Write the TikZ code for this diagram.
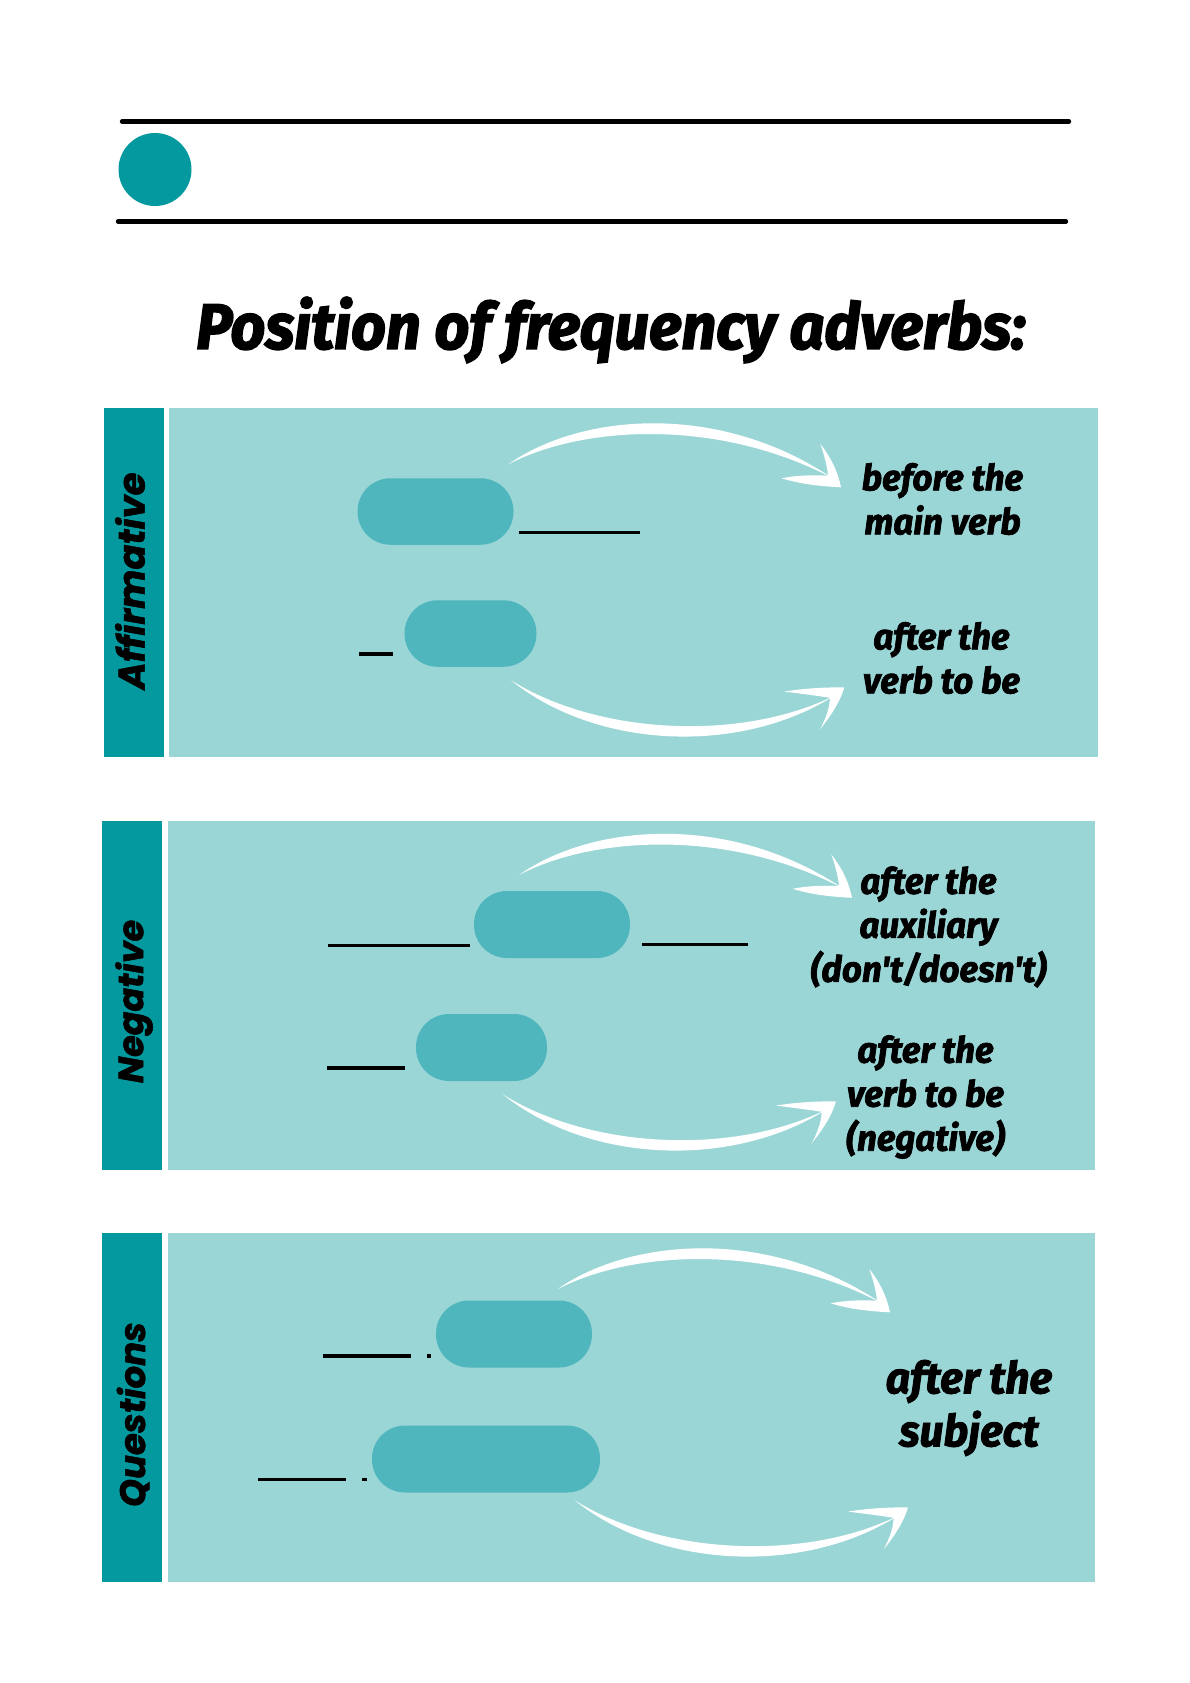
\documentclass[tikz,border=0pt]{standalone}
\usepackage{fontspec}
\setmainfont{Fira Sans}
\newfontfamily\handfont[BoldItalicFeatures={FakeBold=2,FakeStretch=0.97}]{Fira Sans}
\newfontfamily\titlefont[BoldItalicFeatures={FakeBold=2.5,FakeStretch=0.953}]{Fira Sans}
\newfontfamily\sidefont[BoldItalicFeatures={FakeBold=1.5}]{Poppins}
\definecolor{tealbar}{RGB}{4,153,158}
\definecolor{lightpanel}{RGB}{155,214,215}
\definecolor{pillcol}{RGB}{78,182,188}
\tikzset{
  barfill/.style={fill=tealbar,draw=none},
  panelfill/.style={fill=lightpanel,draw=none},
  pill/.style={fill=pillcol,draw=none,rectangle,rounded corners=33pt,inner sep=0pt},
  blank/.style={draw=black,line width=3.1pt},
  rule/.style={draw=black,line width=4.4pt,line cap=round},
  sidelabel/.style={rotate=90,anchor=center,inner sep=0pt,font=\sidefont\bfseries\itshape\fontsize{37}{40}\selectfont},
  hand/.style={align=center,anchor=center,inner sep=0pt,font=\handfont\bfseries\itshape\fontsize{36}{44}\selectfont},
  handbig/.style={align=center,anchor=center,inner sep=0pt,font=\handfont\bfseries\itshape\fontsize{44}{53}\selectfont},
  swooshup/.pic={
    \fill[white] (-332.7,-23) .. controls (-260,-74) and (-125,-85) .. (-13,-12)
      .. controls (-14,-22) and (-17,-33) .. (-20.7,-43.3)
      .. controls (-10,-30) and (-3,-15) .. (0,0)
      .. controls (-20,-1) and (-40,-3) .. (-59.3,-9)
      .. controls (-45,-12) and (-28,-12.5) .. (-13,-11.5)
      .. controls (-125,-68.5) and (-258,-62) .. cycle;
  },
  swooshdown/.pic={
    \fill[white] (-333.3,-7) .. controls (-247,62) and (-107,67) .. (-14.3,11)
      .. controls (-15,22) and (-19,32) .. (-24.3,42)
      .. controls (-13,28) and (-4,14) .. (0,0)
      .. controls (-20,0) and (-40,1) .. (-60,4.3)
      .. controls (-46,6) and (-30,8) .. (-14.3,10.5)
      .. controls (-107,54) and (-247,47) .. cycle;
  }
}
\begin{document}
\begin{tikzpicture}[x=1pt,y=-1pt]
\useasboundingbox (0,0) rectangle (1190,1683);
\fill[white] (0,0) rectangle (1190,1683);
% header
\coordinate (r1a) at (122,121.5); \coordinate (r1b) at (1069,121.5);
\coordinate (r2a) at (118,221.5); \coordinate (r2b) at (1066,221.5);
\draw[rule] (r1a) -- (r1b);
\draw[rule] (r2a) -- (r2b);
\fill[tealbar] (155,169.5) circle[radius=36.5];
\node[anchor=center,inner sep=0pt,font=\titlefont\bfseries\itshape\fontsize{64}{70}\selectfont] (title) at (611,330) {Position of frequency adverbs:};
% panel 1
\fill[barfill] (104,408) rectangle (163.5,757);
\fill[panelfill] (169,408) rectangle (1097.7,757);
\node[sidelabel] (s1) at (130,581) {Affirmative};
\node[pill,minimum width=156pt,minimum height=66.5pt] (p1a) at (435.5,511.5) {};
\node[pill,minimum width=132pt,minimum height=66.5pt] (p1b) at (470.5,633.5) {};
\draw[blank] (518.5,532.3) -- (640,532.3);
\draw[blank] (359,654) -- (393,654);
\pic at (841,487.3) {swooshup};
\pic at (844.3,687.3) {swooshdown};
\node[hand] (t1a) at (942.5,499) {before the\\main verb};
\node[hand] (t1b) at (941.5,658) {after the\\verb to be};
% panel 2
\fill[barfill] (102,820.5) rectangle (161.5,1170);
\fill[panelfill] (167.5,820.5) rectangle (1095,1170);
\node[sidelabel,scale=0.945] (s2) at (134,1001.5) {Negative};
\node[pill,minimum width=156pt,minimum height=67pt] (p2a) at (552,924.5) {};
\node[pill,minimum width=131pt,minimum height=67pt] (p2b) at (481.5,1047.5) {};
\draw[blank] (328,945.5) -- (470,945.5);
\draw[blank] (642,944.5) -- (747.5,944.5);
\draw[blank] (327,1068) -- (405,1068);
\pic at (852,897.8) {swooshup};
\pic at (836,1101.3) {swooshdown};
\node[hand] (t2a) at (928.5,927) {after the\\auxiliary\\(don't/doesn't)};
\node[hand] (t2b) at (925.5,1097) {after the\\verb to be\\(negative)};
% panel 3
\fill[barfill] (102,1233) rectangle (161.5,1582);
\fill[panelfill] (167.5,1233) rectangle (1095,1582);
\node[sidelabel,scale=0.96] (s3) at (133,1414.5) {Questions};
\node[pill,minimum width=156pt,minimum height=67pt] (p3a) at (514,1334) {};
\node[pill,minimum width=228pt,minimum height=67pt] (p3b) at (486,1459) {};
\draw[blank] (323,1356) -- (411,1356);
\draw[blank] (427,1356) -- (430.5,1356);
\draw[blank] (258,1479.5) -- (346,1479.5);
\draw[blank] (362,1479.5) -- (367,1479.5);
\pic at (890,1312.3) {swooshup};
\pic at (908,1507.3) {swooshdown};
\node[handbig] (t3) at (969,1408) {after the\\subject};
\end{tikzpicture}
\end{document}
